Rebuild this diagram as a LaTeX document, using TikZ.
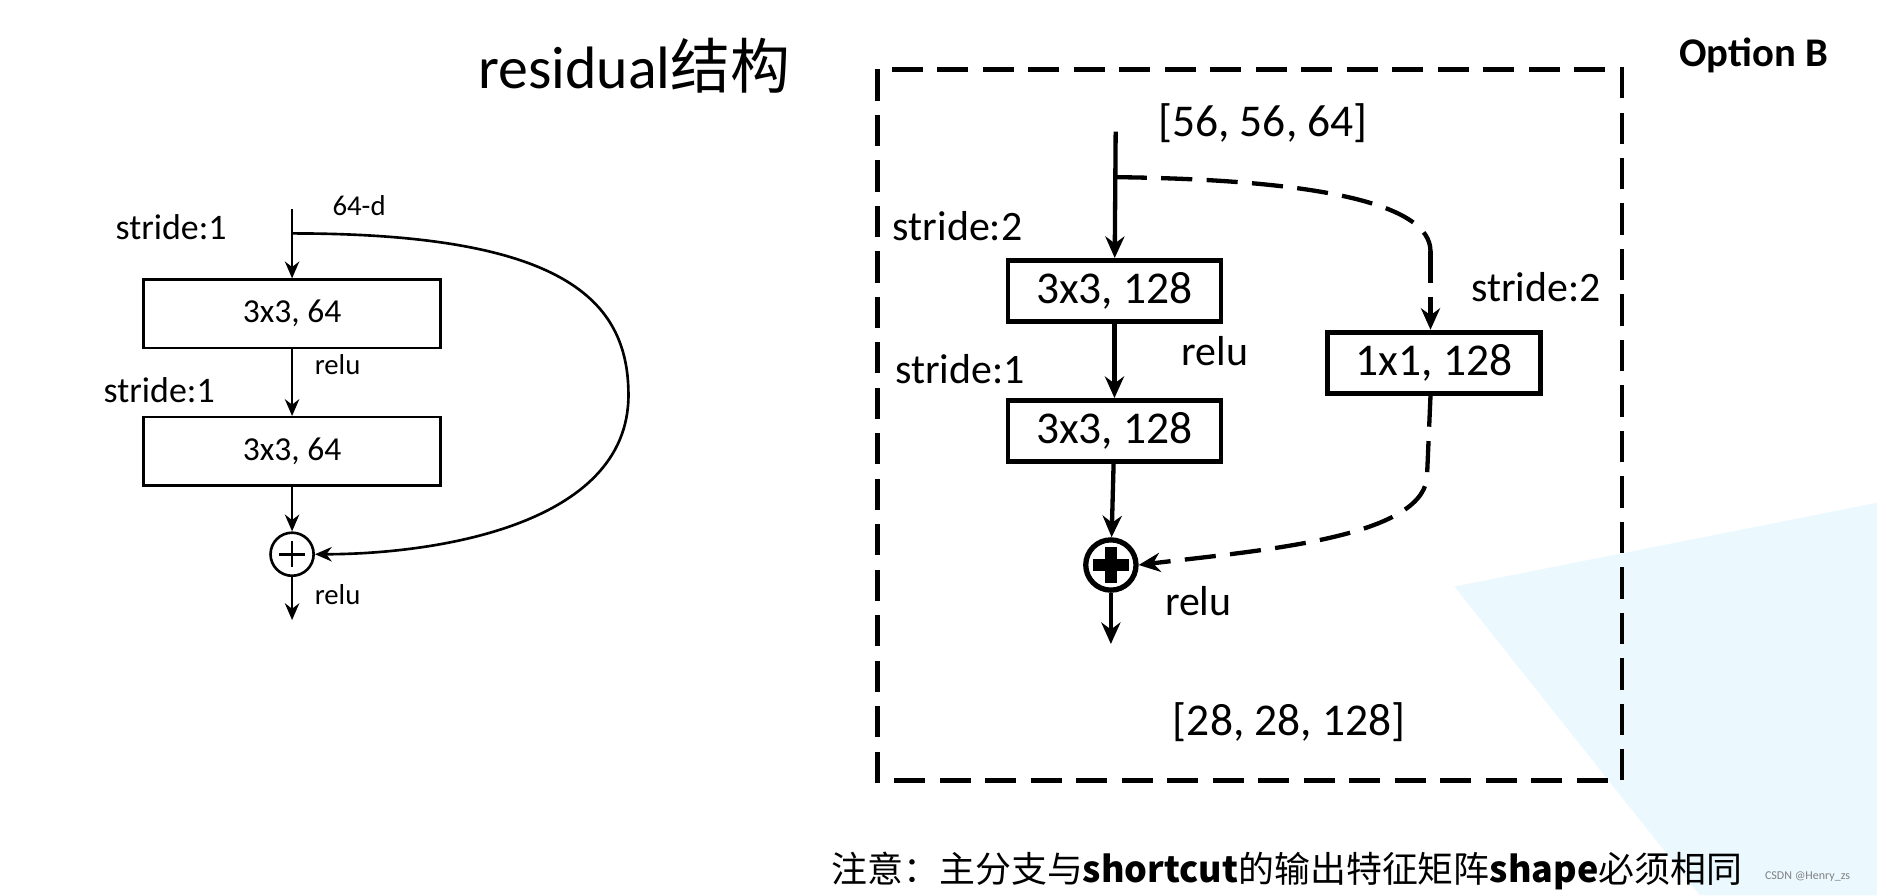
\documentclass[tikz,border=0pt]{standalone}
\usepackage{fontspec}
\setmainfont{Carlito}
\newfontfamily\cjk{Noto Sans CJK SC}
\usetikzlibrary{arrows.meta}
\begin{document}
\begin{tikzpicture}[x=0.5pt,y=-0.5pt,
  lbox/.style={draw,line width=1pt,minimum width=124pt,minimum height=28.5pt,font=\fontsize{14}{16}\selectfont},
  rbox/.style={draw,line width=2pt,minimum width=89pt,minimum height=25.5pt,font=\fontsize{19}{22}\selectfont},
  ltxt/.style={font=\fontsize{15}{18}\selectfont},
  stxt/.style={font=\fontsize{12}{14}\selectfont},
  rtxt/.style={font=\fontsize{17.5}{21}\selectfont},
  larr/.style={line width=1.1pt,-{Stealth[length=7pt,width=6pt]}},
  rarr/.style={line width=1.8pt,-{Stealth[length=9pt,width=8pt]}},
  dsh/.style={line width=1.8pt,dash pattern=on 13pt off 6pt}]
\useasboundingbox (0,0) rectangle (1568,748);
\fill[cyan!8] (1215,490) -- (1568,420) -- (1568,748) -- (1420,748) -- cycle;
% left
\node[font=\fontsize{25}{30}\selectfont] (title) at (530,55) {residual{\cjk 结构}};
\node[ltxt] (s1) at (143,190) {stride:1};
\node[stxt] (d64) at (300,172) {64-d};
\coordinate (lin) at (244,175);
\coordinate (lsplit) at (244,195);
\node[lbox] (b1) at (244,262) {3x3, 64};
\node[stxt] (r1) at (282,305) {relu};
\node[ltxt] (s2) at (133,326) {stride:1};
\node[lbox] (b2) at (244,377) {3x3, 64};
\node[draw,circle,line width=1.1pt,minimum size=18pt,inner sep=0pt] (add) at (244,463) {};
\draw[line width=1.1pt] (244,452)--(244,474) (233,463)--(255,463);
\node[stxt] (r2) at (282,497) {relu};
\coordinate (lout) at (244,518);
\draw[larr] (lin) -- (b1);
\draw[larr] (b1) -- (b2);
\draw[larr] (b2) -- (add);
\draw[larr] (add) -- (lout);
\draw[larr] (lsplit) .. controls (470,195) and (525,250) .. (525,330) .. controls (525,440) and (360,463) .. (add.east);
% right
\draw[dsh] (733,58) rectangle (1355,652);
\node[font=\fontsize{17}{20}\selectfont\bfseries] (opt) at (1465,46) {Option B};
\node[font=\fontsize{19}{22}\selectfont] (in) at (1055,103) {[56, 56, 64]};
\coordinate (rin) at (932,110);
\coordinate (rsplit) at (932,148);
\node[rtxt] (s3) at (800,189) {stride:2};
\node[rbox] (m1) at (931,243) {3x3, 128};
\node[rtxt] (r3) at (1015,293) {relu};
\node[rtxt] (s4) at (802,308) {stride:1};
\node[rbox] (m2) at (931,360) {3x3, 128};
\node[draw,circle,line width=2.2pt,minimum size=21pt,inner sep=0pt] (radd) at (928,472) {};
\draw[line width=5pt] (928,457)--(928,487) (913,472)--(943,472);
\node[rtxt] (r4) at (1001,502) {relu};
\coordinate (rout) at (928,538);
\node[font=\fontsize{19}{22}\selectfont] (outt) at (1077,603) {[28, 28, 128]};
\node[rtxt] (s5) at (1283,240) {stride:2};
\node[rbox] (sc) at (1198,303) {1x1, 128};
\draw[rarr] (rin) -- (m1);
\draw[rarr] (m1) -- (m2);
\draw[rarr] (m2) -- (radd);
\draw[rarr] (radd) -- (rout);
\draw[dsh] (rsplit) .. controls (1100,150) and (1195,170) .. (1195,210);
\draw[dsh,-{Stealth[length=9pt,width=8pt]}] (1195,210) -- (sc.north -| 1195,0);
\draw[dsh,-{Stealth[length=9pt,width=8pt]}] (sc.south -| 1195,0) -- (1192,400) .. controls (1185,450) and (1050,460) .. (radd.east);
\node[font=\fontsize{15}{18}\selectfont] (note) at (1075,728) {\cjk 注意：主分支与\textbf{shortcut}的输出特征矩阵\textbf{shape}必须相同};
\node[font=\fontsize{5}{6}\selectfont,gray] (csdn) at (1510,732) {CSDN @Henry\_zs};
\end{tikzpicture}
\end{document}
